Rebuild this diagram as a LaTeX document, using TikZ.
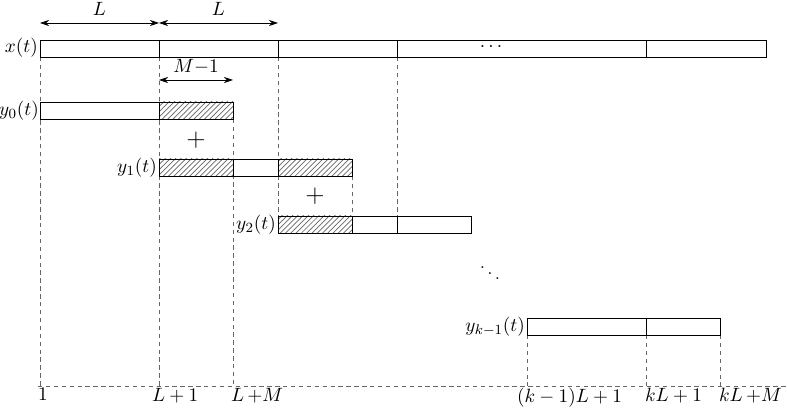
\documentclass[tikz,border=0pt]{standalone}
\usetikzlibrary{arrows.meta, patterns, positioning}
\begin{document}
\begin{tikzpicture}[
x=0.02cm, y=-0.02cm,
font=\fontsize{11}{13}\selectfont,
>={Stealth[length=1.8mm, width=1.2mm]},
seg/.style={draw, line width=0.5pt},
hatch/.style={pattern=north east lines, pattern color=black!60},
guide/.style={draw=black!60, line width=0.4pt, dash pattern=on 2.5pt off 2pt},
lbl/.style={inner sep=1pt},
tick/.style={inner sep=1pt, anchor=north west}
]
\useasboundingbox (0,0) rectangle (787,408);

% guides
\draw[guide] (40,57) -- (40,386);
\draw[guide] (159,57) -- (159,386);
\draw[guide] (233,119) -- (233,386);
\draw[guide] (278,57) -- (278,216);
\draw[guide] (397,57) -- (397,216);
\draw[guide] (352,176) -- (352,216);
\draw[guide] (527,335) -- (527,386);
\draw[guide] (646,335) -- (646,386);
\draw[guide] (720,335) -- (720,386);
\draw[guide] (38,386) -- (787,386);

% input x(t)
\draw[seg] (40,40) rectangle (766,57);
\foreach \p in {159,278,397,646} \draw[seg] (\p,40) -- (\p,57);
\node[lbl, anchor=east] (xlab) at (40,48) {$x(t)$};
\node (xdots) at (491,46) {$\dots$};

% block lengths
\coordinate (a0) at (40,23);
\coordinate (a1) at (159,23);
\coordinate (a2) at (278,23);
\draw[<->] (a0) -- (a1) node[midway, above=0.5pt] (l1) {$L$};
\draw[<->] (a1) -- (a2) node[midway, above=0.5pt] (l2) {$L$};
\coordinate (m0) at (159,80);
\coordinate (m1) at (233,80);
\draw[<->] (m0) -- (m1) node[midway, above=0pt] (mlab) {$M{-}1$};

% y0(t)
\fill[hatch] (159,102) rectangle (233,119);
\draw[seg] (40,102) rectangle (233,119);
\draw[seg] (159,102) -- (159,119);
\node[lbl, anchor=east, inner sep=0.5pt] (y0lab) at (40,111) {$y_0(t)$};
\node (plus1) at (196,140) {\Large $+$};

% y1(t)
\fill[hatch] (159,159) rectangle (233,176);
\fill[hatch] (278,159) rectangle (352,176);
\draw[seg] (159,159) rectangle (352,176);
\foreach \p in {233,278} \draw[seg] (\p,159) -- (\p,176);
\node[lbl, anchor=east] (y1lab) at (159,168) {$y_1(t)$};
\node (plus2) at (315,196) {\Large $+$};

% y2(t)
\fill[hatch] (278,216) rectangle (352,233);
\draw[seg] (278,216) rectangle (471,233);
\foreach \p in {352,397} \draw[seg] (\p,216) -- (\p,233);
\node[lbl, anchor=east] (y2lab) at (278,225) {$y_2(t)$};
\node (ydots) at (490,268) {$\ddots$};

% y_{k-1}(t)
\draw[seg] (527,318) rectangle (720,335);
\draw[seg] (646,318) -- (646,335);
\node[lbl, anchor=east] (yklab) at (527,327) {$y_{k-1}(t)$};

% sample indices
\node[tick] (t1) at (36,386) {$1$};
\node[tick] (t2) at (150,386) {$L+1$};
\node[tick] (t3) at (229,386) {$L\,{+}M$};
\node[tick] (t4) at (515,386) {$(k-1)L+1$};
\node[tick] (t5) at (643,386) {$kL+1$};
\node[tick] (t6) at (717,386) {$kL\,{+}M$};
\end{tikzpicture}
\end{document}
